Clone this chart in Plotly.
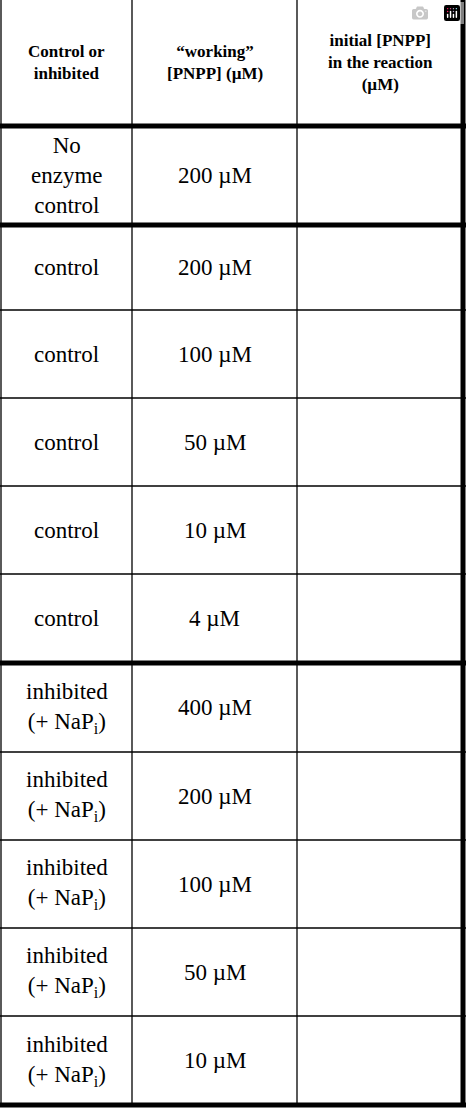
import plotly.graph_objects as go

headers = ["Control or<br>inhibited", "“working”<br>[PNPP] (µM)", "initial [PNPP]<br>in the reaction<br>(µM)"]
conditions = ["No<br>enzyme<br>control", "control", "control", "control", "control", "control",
              "inhibited<br>(+ NaP<sub>i</sub>)", "inhibited<br>(+ NaP<sub>i</sub>)", "inhibited<br>(+ NaP<sub>i</sub>)",
              "inhibited<br>(+ NaP<sub>i</sub>)", "inhibited<br>(+ NaP<sub>i</sub>)"]
working = ["200 µM", "200 µM", "100 µM", "50 µM", "10 µM", "4 µM",
           "400 µM", "200 µM", "100 µM", "50 µM", "10 µM"]

W, H = 466, 1114
col_x = [1, 132, 297, 463]
row_y = [0, 126, 225, 310, 398, 486, 574, 663, 752, 840, 928, 1016, 1105]
thick_rows = {126, 225, 663, 1105}

fig = go.Figure()
shapes = []
for x in col_x:
    w = 5 if x == 463 else 1.3
    shapes.append(dict(type="line", x0=x, x1=x, y0=0, y1=1105, line=dict(color="black", width=w)))
for y in row_y[1:]:
    w = 5 if y in thick_rows else 1.3
    shapes.append(dict(type="line", x0=0, x1=466, y0=y, y1=y, line=dict(color="black", width=w)))

serif = "Times New Roman, Liberation Serif, serif"
hfont = dict(family=serif, size=17, color="black")
bfont = dict(family=serif, size=23, color="black")
ann = []
hy = [62, 62, 62]
for i, h in enumerate(headers):
    ann.append(dict(x=(col_x[i] + col_x[i + 1]) / 2, y=hy[i], text="<b>" + h + "</b>",
                    showarrow=False, font=hfont, xanchor="center", yanchor="middle"))
for r, (c, wv) in enumerate(zip(conditions, working)):
    yc = (row_y[r + 1] + row_y[r + 2]) / 2
    ann.append(dict(x=(col_x[0] + col_x[1]) / 2, y=yc, text=c, showarrow=False, font=bfont))
    ann.append(dict(x=(col_x[1] + col_x[2]) / 2, y=yc, text=wv, showarrow=False, font=bfont))

fig.update_layout(width=W, height=H, margin=dict(l=0, r=0, t=0, b=0),
                  plot_bgcolor="white", paper_bgcolor="white",
                  xaxis=dict(range=[0, W], visible=False, fixedrange=True),
                  yaxis=dict(range=[H, 0], visible=False, fixedrange=True),
                  shapes=shapes, annotations=ann, showlegend=False)
fig.write_html("out.html", post_script="document.body.style.margin='0';document.body.style.overflow='hidden';")
